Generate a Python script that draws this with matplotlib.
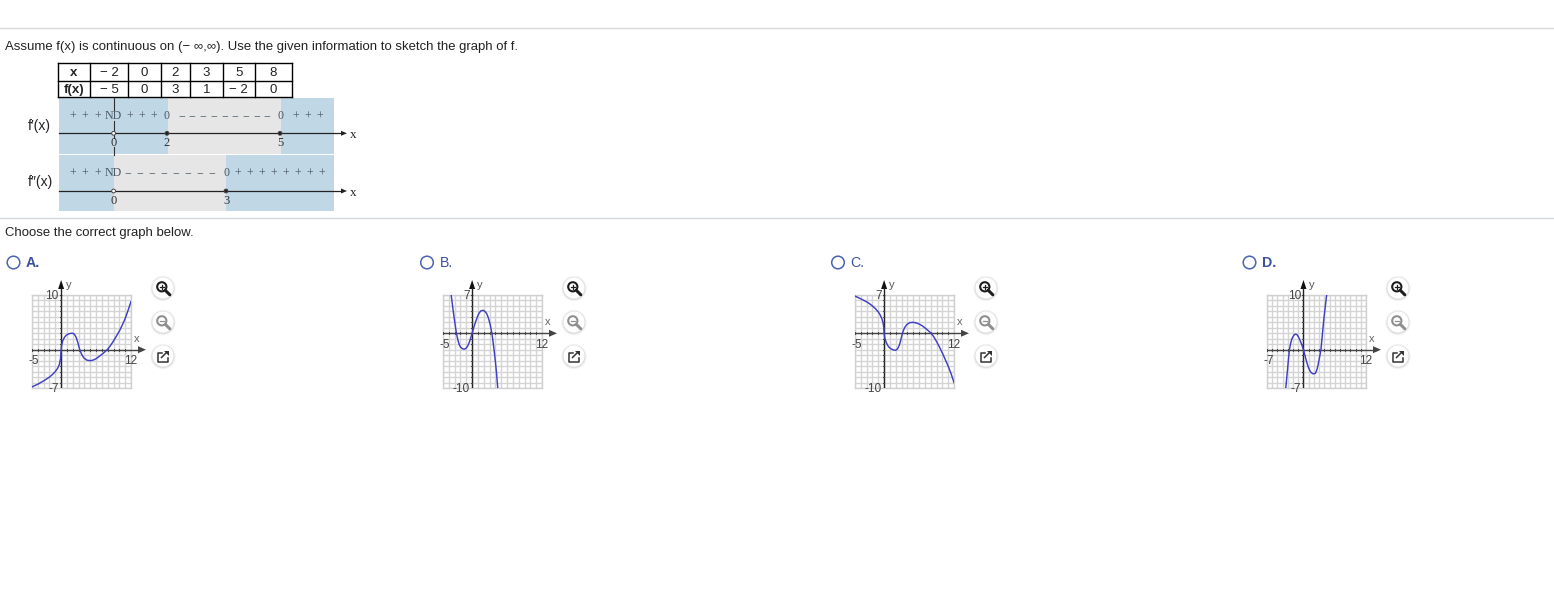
import matplotlib
matplotlib.use("Agg")
import matplotlib.pyplot as plt
from matplotlib.patches import Circle, Rectangle, Polygon

W, H = 1554, 601
PLT = "Liberation Sans"
SER = "Liberation Serif"

# ---- data ----
table_x = ["\u2212 2", "0", "2", "3", "5", "8"]
table_f = ["\u2212 5", "0", "3", "1", "\u2212 2", "0"]

a_x = [-5, -4.5, -4, -3.5, -3, -2.5, -2, -1.5, -1, -0.6, -0.3, -0.1, 0, 0.1, 0.3, 0.6, 0.9, 1.3, 1.7, 2.0, 2.3, 2.6, 2.9, 3.2, 3.5, 3.9, 4.4, 5, 5.5, 6, 6.5, 7, 7.5, 8, 8.5, 9, 9.5, 10, 10.5, 11, 11.5, 12]
a_y = [-6.8, -6.55, -6.3, -6.0, -5.7, -5.35, -5, -4.55, -4.0, -3.4, -2.7, -1.6, 0, 0.9, 1.7, 2.3, 2.65, 2.9, 3.0, 3.0, 2.8, 2.2, 1.2, 0, -0.8, -1.5, -1.9, -2, -1.9, -1.65, -1.25, -0.85, -0.4, 0.1, 0.8, 1.6, 2.5, 3.4, 4.5, 5.7, 7.2, 8.8]
b_x = [-3.6, -3.4, -3.2, -3, -2.8, -2.6, -2.4, -2.2, -2, -1.7, -1.4, -1.1, -0.8, -0.5, -0.2, 0, 0.3, 0.6, 0.9, 1.2, 1.5, 1.9, 2.2, 2.5, 2.8, 3.1, 3.4, 3.6, 3.8, 4.0, 4.2, 4.4]
b_y = [7, 5.4, 3.7, 2.2, 0.7, -0.5, -1.4, -2.1, -2.5, -2.8, -2.9, -2.8, -2.4, -1.7, -0.7, 0, 1.1, 2.1, 3.0, 3.7, 4.1, 4.2, 4.0, 3.6, 2.8, 1.6, 0, -1.6, -3.3, -5.2, -7.4, -10]
c_x = [-5, -4, -3, -2.5, -2, -1.5, -1, -0.7, -0.4, -0.2, -0.05, 0, 0.1, 0.3, 0.6, 0.9, 1.2, 1.6, 2, 2.3, 2.6, 2.8, 3.0, 3.2, 3.5, 3.9, 4.4, 5, 5.5, 6, 6.5, 7, 7.5, 8.1, 8.5, 9, 9.5, 10, 10.5, 11, 11.5, 12]
c_y = [6.8, 6.3, 5.75, 5.4, 5, 4.5, 3.9, 3.4, 2.7, 2, 1, 0, -0.8, -1.5, -2.2, -2.6, -2.85, -3.05, -3.1, -2.85, -2.2, -1.5, -0.6, 0.2, 1.0, 1.6, 1.95, 2, 1.9, 1.7, 1.4, 1, 0.55, 0, -0.6, -1.5, -2.5, -3.6, -4.8, -6, -7.4, -9]
d_x = [-3.4, -3.2, -3, -2.85, -2.7, -2.5, -2.25, -2, -1.75, -1.5, -1.25, -1, -0.7, -0.4, 0, 0.3, 0.6, 0.9, 1.2, 1.5, 1.8, 2.05, 2.3, 2.6, 2.8, 3.0, 3.2, 3.35, 3.6, 3.9, 4.2, 4.45]
d_y = [-7, -5, -3, -1.4, 0, 1, 1.9, 2.4, 2.75, 2.85, 2.75, 2.4, 1.8, 1.1, 0, -1.1, -2.2, -3.1, -3.8, -4.2, -4.4, -4.4, -4.3, -3.6, -2.8, -1.8, -0.8, 0, 2.5, 5.5, 8, 10]

graphs = [
    ("A.", "bold", 6.5, 32, (-5, 12), (-7, 10), a_x, a_y),
    ("B.", "normal", 420, 443, (-5, 12), (-10, 7), b_x, b_y),
    ("C.", "normal", 831, 855, (-5, 12), (-10, 7), c_x, c_y),
    ("D.", "bold", 1242.5, 1267, (-7, 12), (-7, 10), d_x, d_y),
]
icon_x = [163, 574, 986, 1398]

BLUE = "#c0d8e6"
GREY = "#e6e6e6"
fig = plt.figure(figsize=(W / 100, H / 100), dpi=100, facecolor="white")
bg = fig.add_axes([0, 0, 1, 1])
bg.set_xlim(0, W)
bg.set_ylim(H, 0)
bg.axis("off")
bg.set_zorder(10)


def T(x, y, s, size=9, family=PLT, color="#222222", ha="left", weight="normal", **kw):
    return bg.text(x, y + 1.2, s, fontsize=size, family=family, color=color, ha=ha, va="center", weight=weight, **kw)


bg.plot([0, W], [28, 28], color="#d9d9d9", lw=1)
bg.plot([0, W], [218, 218], color="#d4d9dc", lw=1)
T(5, 46, "Assume f(x) is continuous on (\u2212 \u221e,\u221e). Use the given information to sketch the graph of f.", size=9.47)
T(5, 231.5, "Choose the correct graph below.", size=9.47)

# table
cols = [57.5, 90.2, 128, 160.5, 190.4, 222.8, 254.5, 292.4]
rows = [63.3, 80.7, 97.3]
for c in cols:
    bg.plot([c, c], [rows[0], rows[2]], color="black", lw=1)
for r in rows:
    bg.plot([cols[0], cols[-1]], [r, r], color="black", lw=1)
T((cols[0] + cols[1]) / 2, 71.5, "x", ha="center", size=9.5, weight="bold")
T((cols[0] + cols[1]) / 2, 88.5, "f(x)", ha="center", size=9.5, weight="bold")
for i in range(6):
    xc = (cols[i + 1] + cols[i + 2]) / 2
    T(xc, 71.5, table_x[i], ha="center", size=9.5)
    T(xc, 88.5, table_f[i], ha="center", size=9.5)

# sign charts
for y0, y1, spans in [
    (98.3, 154, [(59, 167.7, BLUE), (167.7, 280.6, GREY), (280.6, 334, BLUE)]),
    (155, 211, [(59, 113.6, BLUE), (113.6, 226, GREY), (226, 334, BLUE)]),
]:
    for a, b, col in spans:
        bg.add_patch(Rectangle((a, y0), b - a, y1 - y0, fc=col, ec="none", zorder=1))

for a, b in [(97.5, 110), (121, 138), (147, 155)]:
    bg.plot([113.6, 113.6], [a, b], color="#303030", lw=0.8, zorder=2)
for ya, labels, tx in [(133.3, [("0", False), ("2", True), ("5", True)], [113.6, 167, 280]),
                       (191, [("0", False), ("3", True)], [113.6, 226])]:
    bg.plot([59, 342], [ya, ya], color="#222222", lw=0.9, zorder=3)
    bg.add_patch(Polygon([[341, ya - 2.5], [347, ya], [341, ya + 2.5]], fc="#222222", ec="none", zorder=3))
    T(349.5, ya + 0.5, "x", family=SER, size=9.5)
    for (lab, filled), x in zip(labels, tx):
        bg.add_patch(Circle((x, ya), 1.9, fc="#222222" if filled else "white", ec="#444444", lw=0.7, zorder=4))
        T(x, ya + 9, lab, family=SER, size=9, ha="center", color="#333333", zorder=5)

SC = "#4a5a66"
row1 = [(73, "+"), (85, "+"), (97.5, "+"), (113.6, "ND"), (130, "+"), (142, "+"), (154, "+"), (167, "0"),
        (181.5, "\u2212"), (192.2, "\u2212"), (202.9, "\u2212"), (213.6, "\u2212"), (224.3, "\u2212"),
        (235, "\u2212"), (245.7, "\u2212"), (256.4, "\u2212"), (267, "\u2212"), (280, "0"),
        (296, "+"), (308, "+"), (320, "+")]
row2 = [(73, "+"), (85, "+"), (97.5, "+"), (113.6, "ND"), (128, "\u2212"), (140, "\u2212"), (152, "\u2212"),
        (164, "\u2212"), (176, "\u2212"), (188, "\u2212"), (200, "\u2212"), (212, "\u2212"), (226, "0"),
        (237.6, "+"), (249.6, "+"), (261.6, "+"), (273.6, "+"), (285.6, "+"), (297.6, "+"), (309.6, "+"), (321.6, "+")]
for yy, row in [(115, row1), (172, row2)]:
    for x, s in row:
        T(x, yy, s, family=SER, size=8.6, color=SC, ha="center", zorder=5)
T(28, 124.5, "f\u2032(x)", size=10)
T(28, 180.5, "f\u2033(x)", size=10)

# graphs
TOP, BOT = 295, 388
WID = 99
for (lab, wt, lx, bx, xl, yl, xs, ys), ix in zip(graphs, icon_x):
    bg.add_patch(Circle((lx + 7, 262.5), 6.3, fc="white", ec="#4a64b4", lw=1.1))
    T(lx + 19.5, 261.5, lab, size=10.2, color="#3c50a0", weight=wt)
    ax = fig.add_axes([bx / W, 1 - BOT / H, WID / W, (BOT - TOP) / H])
    ax.set_xlim(*xl)
    ax.set_ylim(*yl)
    ax.patch.set_alpha(0)
    ax.set_xticks(range(xl[0], xl[1] + 1))
    ax.set_yticks(range(yl[0], yl[1] + 1))
    ax.grid(True, color="#d4d4d4", lw=1.0, zorder=0)
    ax.tick_params(length=0, labelbottom=False, labelleft=False)
    ax.set_axisbelow(True)
    for sp in ("top", "bottom", "left", "right"):
        ax.spines[sp].set_color("#d0d0d0")
        ax.spines[sp].set_linewidth(1.0)
    ax.plot(xs, ys, color="#3f3fc4", lw=1.05, zorder=5, solid_joinstyle="round")
    ax.axhline(0, color="#444444", lw=1.0, zorder=4)
    ax.axvline(0, color="#222222", lw=1.0, zorder=4)
    for t in range(xl[0], xl[1] + 1):
        ax.plot([t, t], [-0.2, 0.2], color="#444444", lw=0.7, zorder=4)
    for t in range(yl[0], yl[1] + 1):
        ax.plot([-0.25, 0], [t, t], color="#444444", lw=0.7, zorder=4)
    ox = bx + WID * (-xl[0]) / (xl[1] - xl[0])
    oy = TOP + (BOT - TOP) * yl[1] / (yl[1] - yl[0])
    bg.plot([bx + WID, bx + WID + 10], [oy, oy], color="#444444", lw=1.0)
    bg.add_patch(Polygon([[bx + WID + 7, oy - 3.5], [bx + WID + 15, oy], [bx + WID + 7, oy + 3.5]], fc="#444444", ec="none"))
    bg.plot([ox, ox], [TOP, 288], color="#222222", lw=1.0)
    bg.add_patch(Polygon([[ox - 3, 289], [ox, 280], [ox + 3, 289]], fc="#111111", ec="none"))
    T(ox + 5, 283.5, "y", size=8, color="#555555")
    T(bx + WID + 6, oy - 12, "x", size=8, color="#666666", ha="center")
    T(ox - 2.5, TOP - 0.5, str(yl[1]), size=8.6, ha="right", color="#444444")
    T(ox - 2.5, BOT - 0.5, str(yl[0]), size=8.6, ha="right", color="#444444")
    T(bx + 1.5, oy + 10.5, str(xl[0]), size=8.6, ha="center", color="#444444")
    T(bx + WID, oy + 10.5, str(xl[1]), size=8.6, ha="center", color="#444444")

    # icons
    for cy, col, plus in [(288, "#1e1e1e", True), (322, "#8f8f8f", False), (356, "#333333", None)]:
        for r, a in [(12.8, .03), (12.1, .04), (11.4, .06)]:
            bg.add_patch(Circle((ix, cy + 0.5), r, fc="black", ec="none", alpha=a))
        bg.add_patch(Circle((ix, cy), 10.5, fc="white", ec="none"))
        if plus is None:
            bg.plot([ix - 1, ix - 5, ix - 5, ix + 4.5, ix + 4.5], [cy - 3.5, cy - 3.5, cy + 5.5, cy + 5.5, cy + 1.5], color=col, lw=1.1)
            bg.plot([ix - 1.5, ix + 3], [cy + 1.5, cy - 3], color=col, lw=1.1)
            bg.add_patch(Polygon([[ix + 0.5, cy - 5.5], [ix + 5.5, cy - 5.5], [ix + 5.5, cy - 0.5]], fc=col, ec="none"))
            continue
        bg.add_patch(Circle((ix - 1.2, cy - 1.2), 4.6, fc="none", ec=col, lw=1.5))
        bg.plot([ix + 2.4, ix + 6.8], [cy + 2.4, cy + 6.8], color=col, lw=2.2, solid_capstyle="round")
        bg.plot([ix - 3.2, ix + 0.8], [cy - 1.2, cy - 1.2], color=col, lw=0.9)
        if plus:
            bg.plot([ix - 1.2, ix - 1.2], [cy - 3.2, cy + 0.8], color=col, lw=0.9)

fig.savefig("out.png", dpi=100)
